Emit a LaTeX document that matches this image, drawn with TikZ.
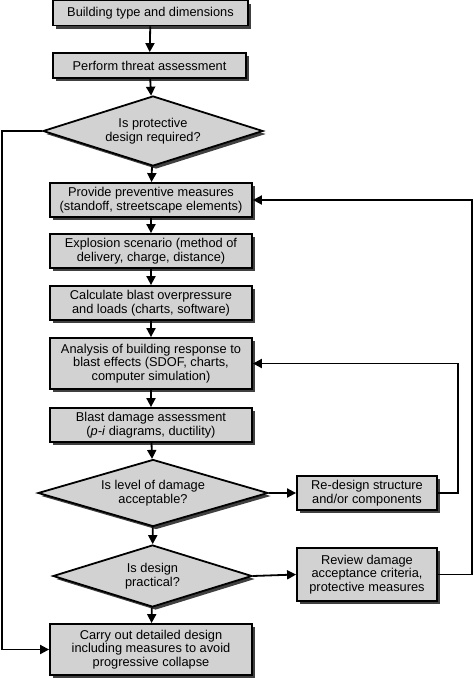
\documentclass[tikz,border=0pt]{standalone}
\usepackage{fontspec}
\setmainfont{Liberation Sans}
\usetikzlibrary{shapes.geometric,shadows,arrows.meta}
\definecolor{boxgray}{HTML}{D2D2D2}

\begin{document}
\begin{tikzpicture}[x=1pt,y=-1pt,
  >={Triangle[length=9pt,width=9pt]},
  every node/.style={font=\fontsize{12.8}{13.5}\selectfont, align=center},
  conn/.style={->, line width=1.8pt},
  procbox/.style={draw, line width=1.8pt, rectangle, fill=boxgray, inner sep=0pt,
    drop shadow={shadow xshift=3pt, shadow yshift=-3pt, fill=black!75, opacity=1}},
  decbox/.style={draw, line width=1.8pt, diamond, fill=boxgray, inner sep=0pt,
    drop shadow={shadow xshift=3pt, shadow yshift=-3pt, fill=black!75, opacity=1}}]
\useasboundingbox (0,0) rectangle (474,678);

% main column
\node[procbox, minimum width=195, minimum height=25] (type) at (150.5,13) {Building type and dimensions};
\node[procbox, minimum width=193, minimum height=25] (threat) at (149.5,65.5) {Perform threat assessment};
\node[decbox, aspect=3.1, minimum width=220, minimum height=70] (protect) at (153,131) {Is protective\\design required?};
\node[procbox, minimum width=202, minimum height=34] (prevent) at (151,200) {Provide preventive measures\\(standoff, streetscape elements)};
\node[procbox, minimum width=202, minimum height=34] (scenario) at (151,251) {Explosion scenario (method of\\delivery, charge, distance)};
\node[procbox, minimum width=202, minimum height=34] (loads) at (151,303) {Calculate blast overpressure\\and loads (charts, software)};
\node[procbox, minimum width=202, minimum height=51] (response) at (151,363.5) {Analysis of building response to\\blast effects (SDOF, charts,\\computer simulation)};
\node[procbox, minimum width=202, minimum height=34] (damage) at (151,425) {Blast damage assessment\\(\textit{p-i} diagrams, ductility)};
\node[decbox, aspect=3.4, minimum width=230, minimum height=67] (accept) at (153,493) {Is level of damage\\acceptable?};
\node[decbox, aspect=3.2, minimum width=199, minimum height=62] (practical) at (152.5,576) {Is design\\practical?};
\node[procbox, minimum width=202, minimum height=51] (detail) at (151,649.5) {Carry out detailed design\\including measures to avoid\\progressive collapse};

% side boxes
\node[procbox, minimum width=140, minimum height=34] (redesign) at (367,493) {Re-design structure\\and/or components};
\node[procbox, minimum width=140, minimum height=53] (review) at (367,574.5) {Review damage\\acceptance criteria,\\protective measures};

\draw[conn] (type) -- (threat);
\draw[conn] (threat) -- (protect);
\draw[conn] (protect) -- (prevent);
\draw[conn] (prevent) -- (scenario);
\draw[conn] (scenario) -- (loads);
\draw[conn] (loads) -- (response);
\draw[conn] (response) -- (damage);
\draw[conn] (damage) -- (accept);
\draw[conn] (accept) -- (practical);
\draw[conn] (practical) -- (detail);
\draw[conn] (accept.east) -- (redesign.west);
\draw[conn] (practical.east) -- (review.west);

% loops
\draw[conn] (protect.west) -- ++(-40,0) |- (detail.west);
\draw[conn] (redesign.east) -- ++(20,0) |- (response.east);
\draw[conn] (review.east) -- ++(34,0) |- (prevent.east);
\end{tikzpicture}
\end{document}
